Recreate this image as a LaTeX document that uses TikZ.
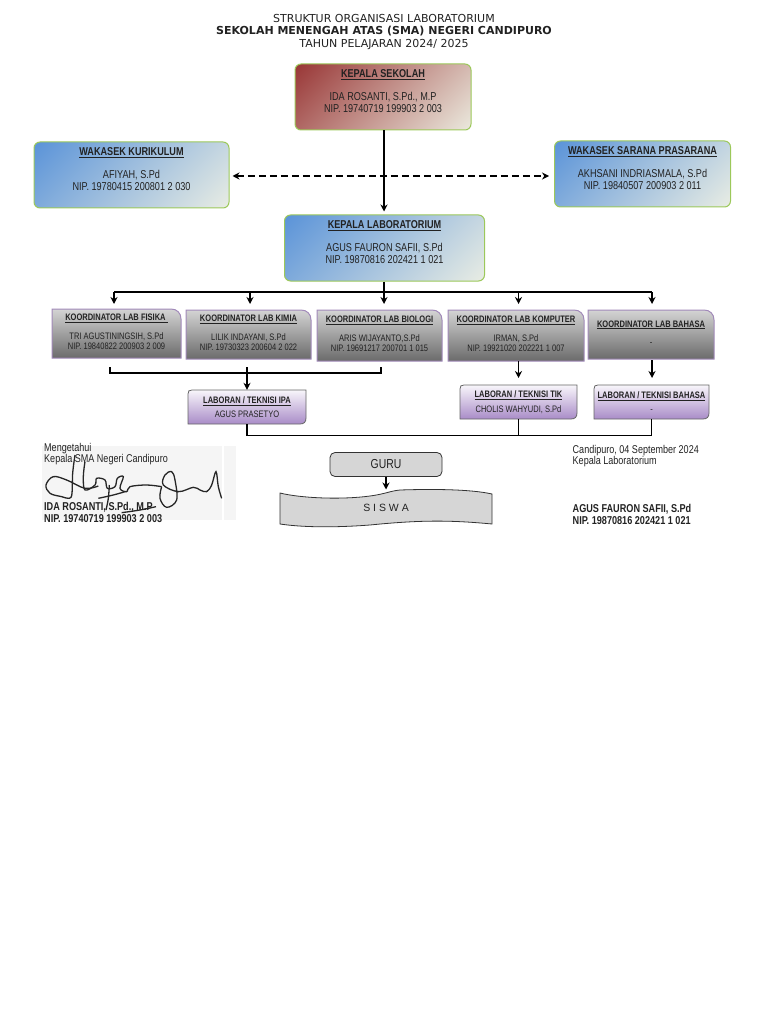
\documentclass[tikz,border=0pt]{standalone}
\usepackage{fontspec}
\setmainfont{Liberation Sans}
\newfontfamily\sempit[FakeStretch=0.8]{Liberation Sans}
\newfontfamily\judul{DejaVu Sans}
\usetikzlibrary{arrows.meta}
\definecolor{teks}{HTML}{222222}
\definecolor{birua}{HTML}{5590D8}
\definecolor{merah}{HTML}{963030}
\definecolor{krem}{HTML}{EEF0E4}
\definecolor{hijau}{HTML}{9CC85A}
\definecolor{ungu}{HTML}{A98CC8}
\pgfdeclareverticalshading{miringbiru}{100bp}{color(0bp)=(krem); color(12bp)=(krem); color(88bp)=(birua); color(100bp)=(birua)}
\pgfdeclareverticalshading{miringmerah}{100bp}{color(0bp)=(krem); color(12bp)=(krem); color(88bp)=(merah); color(100bp)=(merah)}
\tikzset{
    >={Stealth[length=7pt,width=7pt]},
    garis/.style={line width=1.9pt, black},
    judulteks/.style={font=\judul\fontsize{11}{13}\selectfont, text=teks, inner sep=0pt},
    kotak/.style={draw=hijau, line width=1pt, rounded corners=6pt, inner sep=0pt, align=center, text=teks,
        font=\sempit\fontsize{11.4}{11.8}\selectfont, shade, shading=#1, shading angle=45},
    koordshade/.style={draw=ungu!80!gray, line width=1pt, top color=black!17, bottom color=black!58},
    laborshade/.style={draw=black!60, line width=.8pt, top color=ungu!8, bottom color=ungu},
    isi/.style={inner sep=0pt, align=center, text=teks, font=\sempit\fontsize{9.4}{9.5}\selectfont},
    catatan/.style={inner sep=0pt, anchor=west, text=teks, font=\sempit\fontsize{11.3}{11.5}\selectfont},
    tebal/.style={font=\sempit\bfseries\fontsize{11.4}{13}\selectfont},
    coretan/.style={black!85, line width=1.3pt},
}
% kotak koordinator: sudut kanan atas bulat
\newcommand{\koordbox}[6]{
    \path[koordshade] (#1,#2) -- (#1,#4) -- (#3,#4) -- (#3,#2+10) .. controls (#3,#2+4) and (#3-4,#2) .. (#3-10,#2) -- cycle;
    \node[isi, minimum width=#3-#1, minimum height=#4-#2-3] (#5) at ({(#1+#3)/2},{(#2+#4)/2-1.5}) {#6};
}
% kotak laboran: sudut kiri atas dan kanan bawah bulat
\newcommand{\laborbox}[6]{
    \path[laborshade] (#1+4,#2) -- (#3,#2) -- (#3,#4-6) .. controls (#3,#4-2) and (#3-2,#4) .. (#3-6,#4) -- (#1,#4) -- (#1,#2+4) .. controls (#1,#2+1) and (#1+1,#2) .. (#1+4,#2) -- cycle;
    \node[isi, minimum width=#3-#1, minimum height=#4-#2] (#5) at ({(#1+#3)/2},{(#2+#4)/2}) {#6};
}
\begin{document}
\begin{tikzpicture}[x=1pt, y=-1pt]
    \useasboundingbox (0,0) rectangle (768,1024);

    % Judul
    \node[judulteks] (judul1) at (384,18.5) {STRUKTUR ORGANISASI LABORATORIUM};
    \node[judulteks, font=\judul\bfseries\fontsize{11}{13}\selectfont] (judul2) at (384,31.5) {SEKOLAH MENENGAH ATAS (SMA) NEGERI CANDIPURO};
    \node[judulteks] (judul3) at (384,44.5) {TAHUN PELAJARAN 2024/ 2025};

    % Pimpinan
    \node[kotak=miringmerah, minimum width=176, minimum height=66] (kepsek) at (383,97) {\underline{\textbf{KEPALA SEKOLAH}}\\[11.5pt]IDA ROSANTI, S.Pd., M.P\\NIP. 19740719 199903 2 003\\\mbox{}};
    \node[kotak=miringbiru, minimum width=195, minimum height=66] (wakur) at (131.5,175) {\underline{\textbf{WAKASEK KURIKULUM}}\\[11.5pt]AFIYAH, S.Pd\\NIP. 19780415 200801 2 030\\\mbox{}};
    \node[kotak=miringbiru, minimum width=176, minimum height=66] (wasar) at (642.5,174) {\underline{\textbf{WAKASEK SARANA PRASARANA}}\\[11.5pt]AKHSANI INDRIASMALA, S.Pd\\NIP. 19840507 200903 2 011\\\mbox{}};
    \node[kotak=miringbiru, minimum width=200, minimum height=66] (kalab) at (384.5,248) {\underline{\textbf{KEPALA LABORATORIUM}}\\[11.5pt]AGUS FAURON SAFII, S.Pd\\NIP. 19870816 202421 1 021\\\mbox{}};

    % Koordinator
    \koordbox{52}{309}{181}{358}{kfisika}{\underline{\textbf{KOORDINATOR LAB FISIKA }}\\[9.5pt]TRI AGUSTININGSIH, S.Pd\\NIP. 19840822 200903 2 009}
    \koordbox{186}{310}{311}{359}{kkimia}{\underline{\textbf{KOORDINATOR LAB KIMIA}}\\[9.5pt]LILIK INDAYANI, S.Pd\\NIP. 19730323 200604 2 022}
    \koordbox{317}{310}{442}{361}{kbiologi}{\underline{\textbf{KOORDINATOR LAB BIOLOGI}}\\[9.5pt]ARIS WIJAYANTO,S.Pd\\NIP. 19691217 200701 1 015}
    \koordbox{448}{310}{584}{361}{kkomputer}{\underline{\textbf{KOORDINATOR LAB KOMPUTER}}\\[9.5pt]IRMAN, S.Pd\\NIP. 19921020 202221 1 007}
    \koordbox{588}{310}{714}{359}{kbahasa}{\underline{\textbf{KOORDINATOR LAB BAHASA}}\\[9pt]-}

    % Laboran
    \laborbox{188}{390}{306}{424}{lipa}{\underline{\textbf{LABORAN / TEKNISI IPA}}\\[5pt]AGUS PRASETYO}
    \laborbox{460}{385}{577}{419}{ltik}{\underline{\textbf{LABORAN / TEKNISI TIK}}\\[5pt]CHOLIS WAHYUDI, S.Pd}
    \laborbox{594}{385}{709}{419}{lbahasa}{\underline{\textbf{LABORAN / TEKNISI BAHASA}}\\[5pt]-}

    % Guru dan siswa
    \node[draw=black!80, fill=black!16, rounded corners=5pt, line width=.8pt, minimum width=112, minimum height=24, inner sep=0pt, text=teks, font=\sempit\fontsize{13}{15}\selectfont] (guru) at (386,464.5) {GURU};
    \path[draw=black!80, fill=black!16, line width=.8pt] (280,493) .. controls (300,498) and (340,500) .. (370,496)
        .. controls (385,494) and (390,491) .. (400,490) .. controls (430,489) and (470,489) .. (492,494)
        -- (492,524) .. controls (450,520) and (420,520) .. (370,525) .. controls (330,528) and (300,527) .. (280,524) -- cycle;
    \node[inner sep=0pt, text=teks, font=\fontsize{10.5}{12}\selectfont] (siswa) at (386,508) {S I S W A};

    % Garis penghubung
    \coordinate (bus1) at (384,292);
    \coordinate (bus0) at (114,292);
    \coordinate (bus4) at (652,292);
    \coordinate (dfis) at (114,304);
    \coordinate (dkim) at (250,304);
    \coordinate (dbio) at (384,304);
    \coordinate (dkom) at (518.5,304);
    \coordinate (dbah) at (652,304);
    \coordinate (putus) at (384,176);
    \coordinate (kurung) at (247,367);
    \coordinate (tkom) at (518.5,378);
    \coordinate (tbah) at (652,378);
    \coordinate (bawah) at (247,435.5);
    \draw[garis, ->, shorten >=3pt] (bus1 |- kepsek.south) -- (bus1 |- kalab.north);
    \draw[garis, <->, dash pattern=on 7pt off 4pt, shorten <=3pt, shorten >=5pt] (wakur.east |- putus) -- (wasar.west |- putus);
    \draw[garis] (bus1 |- kalab.south) -- (bus1);
    \draw[garis] (bus0) -- (bus4);
    \draw[garis, ->] (bus0) -- (dfis);
    \draw[garis, ->] (dkim |- bus0) -- (dkim);
    \draw[garis, ->] (bus1) -- (dbio);
    \draw[garis, ->] (dkom |- bus0) -- (dkom);
    \draw[garis, ->] (bus4) -- (dbah);
    \draw[garis, line width=1.5pt] (110,367) -- (110,373) -- (381,373) -- (381,367);
    \draw[garis, ->] (kurung) -- (lipa.north);
    \draw[garis, ->, shorten <=3pt] (tkom |- kkomputer.south) -- (tkom);
    \draw[garis, ->, shorten <=4pt] (tbah |- kbahasa.south) -- (tbah);
    \draw[garis] (lipa.south) -- (bawah) -- (bawah -| lbahasa.south) -- (lbahasa.south);
    \draw[garis] (tkom |- bawah) -- (tkom |- ltik.south);
    \draw[garis, ->, line width=1.3pt, shorten >=1pt] (guru.south) -- (guru.south |- 0,490.5);

    % Tanda tangan
    \fill[black!4] (42,446) rectangle (222,520);
    \fill[black!4] (224,446) rectangle (236,520);
    \begin{scope}[shift={(30,430)}, x=.3333pt, y=-.3333pt]
        \draw[coretan] plot[smooth, tension=.6] coordinates {(135,75) (128,130) (126,190) (118,205) (95,200) (60,190) (48,165) (70,140) (110,150) (165,175) (205,168)};
        \draw[coretan] plot[smooth, tension=.6] coordinates {(165,95) (160,140) (165,180) (195,165) (200,145) (225,150) (232,175) (255,170) (262,145) (280,140) (270,175) (290,185) (300,170) (350,165) (395,170)};
        \draw[coretan] plot[smooth, tension=.7] coordinates {(238,165) (235,205) (228,240)};
        \draw[coretan] plot[smooth, tension=.7] coordinates {(205,205) (250,195) (285,185)};
        \draw[coretan] plot[smooth, tension=.6] coordinates {(395,170) (390,205) (410,232) (440,210) (435,150) (425,125) (405,135) (400,165) (445,185) (490,172) (510,180) (530,185) (545,165) (558,125) (565,170) (575,205)};
        \draw[coretan] plot[smooth, tension=.7] coordinates {(275,248) (330,240) (378,230)};
    \end{scope}

    % Pengesahan
    \node[catatan] (mengetahui) at (44,449) {Mengetahui};
    \node[catatan] (kepsma) at (44,460) {Kepala SMA Negeri Candipuro};
    \node[catatan, tebal] (ttd1) at (44,507) {IDA ROSANTI, S.Pd., M.P};
    \node[catatan, tebal] (ttd2) at (44,519) {NIP. 19740719 199903 2 003};
    \node[catatan] (tanggal) at (572.5,451) {Candipuro, 04 September 2024};
    \node[catatan] (kepalab) at (572.5,462) {Kepala Laboratorium};
    \node[catatan, tebal] (ttd3) at (572.5,509) {AGUS FAURON SAFII, S.Pd};
    \node[catatan, tebal] (ttd4) at (572.5,521) {NIP. 19870816 202421 1 021};
\end{tikzpicture}
\end{document}
